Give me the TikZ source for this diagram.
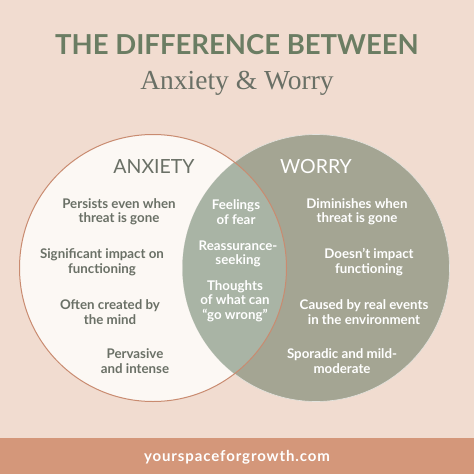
\documentclass[tikz,border=0pt]{standalone}
\usepackage{fontspec}
\usepackage{xcolor}
\usetikzlibrary{positioning}
\setmainfont{Liberation Serif}
\newfontfamily\bodyfont{Lato}
\newfontfamily\footfont[LetterSpace=6]{Lato}
\definecolor{blush}{HTML}{F1DCD0}
\definecolor{clay}{HTML}{D4977A}
\definecolor{cream}{HTML}{FCF8F4}
\definecolor{rim}{HTML}{C98B70}
\definecolor{olive}{HTML}{A4A593}
\definecolor{sage}{HTML}{A9B4A5}
\definecolor{moss}{HTML}{6B7D63}
\definecolor{slate}{HTML}{6A7066}

\begin{document}
\begin{tikzpicture}[
    x=1pt, y=-1pt,
    item/.style={font=\bodyfont\bfseries\fontsize{13.3}{14.5}\selectfont, align=center, inner sep=0pt},
    left item/.style={item, text=slate},
    right item/.style={item, text=white},
    heading/.style={font=\bodyfont\fontsize{19.5}{22}\selectfont, inner sep=0pt}
]
    \useasboundingbox (0,0) rectangle (474,474);
    \fill [blush] (0,0) rectangle (474,474);
    \fill [clay] (0,438) rectangle (474,474);

    % the two circles
    \fill [cream] (153,268) circle (133.5);
    \filldraw [olive, draw=white!70!olive, line width=0.6pt] (316,268) circle (133.5);
    \begin{scope}
        \clip (153,268) circle (133.5);
        \fill [sage] (316,268) circle (133.5);
    \end{scope}
    \draw [rim, line width=1pt] (153,268) circle (133.5);

    % titles
    \node (title) [font=\bodyfont\bfseries\fontsize{27.5}{30}\selectfont, text=moss, inner sep=0pt] at (237,45) {THE DIFFERENCE BETWEEN};
    \node (subtitle) [font=\fontsize{27.5}{30}\selectfont, text=slate, inner sep=0pt] at (237,83) {Anxiety \& Worry};

    \node (anxiety) [heading, text=slate] at (154,167) {ANXIETY};
    \node (worry) [heading, text=white] at (316,167) {WORRY};

    % anxiety only
    \node (persists) [left item] at (119,212) {Persists even when\\threat is gone};
    \node (impact) [left item] at (102,262) {Significant impact on\\functioning};
    \node (created) [left item] at (110,312) {Often created by\\the mind};
    \node (pervasive) [left item] at (135,361) {Pervasive\\and intense};

    % shared
    \node (fear) [right item] at (236,212) {Feelings\\of fear};
    \node (reassure) [right item] at (238,254) {Reassurance-\\seeking};
    \node (thoughts) [right item] at (235,301) {Thoughts\\of what can\\“go wrong”};

    % worry only
    \node (diminishes) [right item] at (357,212) {Diminishes when\\threat is gone};
    \node (noimpact) [right item] at (369,262) {Doesn’t impact\\functioning};
    \node (caused) [right item] at (364,312) {Caused by real events\\in the environment};
    \node (sporadic) [right item] at (342,361) {Sporadic and mild-\\moderate};

    \node (site) [font=\footfont\bfseries\fontsize{15}{17}\selectfont, text=white, inner sep=0pt] at (237,457) {yourspaceforgrowth.com};
\end{tikzpicture}
\end{document}
